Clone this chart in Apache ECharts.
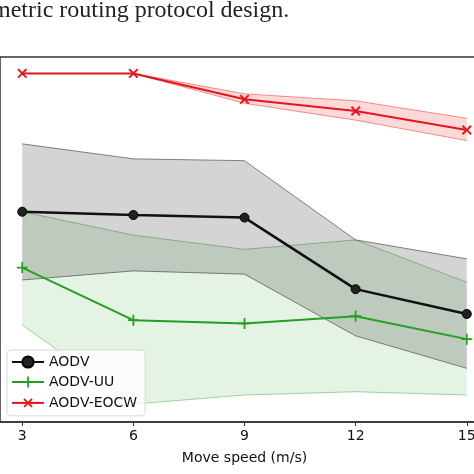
<!DOCTYPE html>
<html>
<head>
    <meta charset="utf-8">
    <title>Move speed</title>
    <script src="https://cdn.jsdelivr.net/npm/echarts@6/dist/echarts.min.js"></script>
    <style>
        html, body { margin: 0; padding: 0; background: #fff; overflow: hidden; }
        /* 右边框在原图之外，画布放宽一点 */
        #chart1 { width: 490px; height: 474px; }
    </style>
</head>
<body>
<div id="chart1"></div>
<script type="text/javascript">

    // x 轴：移动速度
    var speeds = [3, 6, 9, 12, 15];
    var tickLabels = [3, 6, 9, 12, 15];

    // 纵轴刻度被裁掉了，按图中高度读数（0~100）
    var aodvMean = [57.6, 56.7, 56.0, 36.4, 29.6];
    var aodvUpper = [76.2, 72.1, 71.6, 49.9, 44.7];
    var aodvLower = [38.9, 41.4, 40.5, 23.6, 14.7];

    var uuMean = [42.3, 27.9, 27.0, 29.0, 22.7];
    var uuUpper = [57.6, 51.2, 47.3, 49.9, 38.3];
    var uuLower = [26.6, 4.9, 7.4, 8.3, 7.4];

    var eocwMean = [95.5, 95.5, 88.4, 85.2, 80.0];
    var eocwUpper = [95.5, 95.5, 89.9, 88.0, 83.2];
    var eocwLower = [95.5, 95.5, 87.3, 82.7, 77.1];

    function pairs(ys) {
        return speeds.map(function (x, i) { return [x, ys[i]]; });
    }

    // 阴影带：用 custom 系列按坐标轴换算成多边形
    function band(name, low, up, fill, edge) {
        return {
            name: name + '-band', type: 'custom', silent: true,
            data: pairs(up),
            renderItem: function (params, api) {
                if (params.dataIndex !== 0) return;
                var top = speeds.map(function (x, i) { return api.coord([x, up[i]]); });
                var bot = speeds.map(function (x, i) { return api.coord([x, low[i]]); });
                var poly = top.concat(bot.slice().reverse());
                return {
                    type: 'group',
                    children: [
                        { type: 'polygon', shape: { points: poly }, style: { fill: fill, stroke: null } },
                        { type: 'polyline', shape: { points: top }, style: { fill: null, stroke: edge, lineWidth: 1 } },
                        { type: 'polyline', shape: { points: bot }, style: { fill: null, stroke: edge, lineWidth: 1 } }
                    ]
                };
            },
            z: 1
        };
    }

    var plusPath = 'path://M4.2,0H5.8V4.2H10V5.8H5.8V10H4.2V5.8H0V4.2H4.2Z';

    var series = [
        band('uu', uuLower, uuUpper, 'rgba(44,160,44,0.13)', 'rgba(60,160,60,0.45)'),
        band('aodv', aodvLower, aodvUpper, 'rgba(0,0,0,0.17)', 'rgba(40,40,40,0.55)'),
        band('eocw', eocwLower, eocwUpper, 'rgba(255,0,0,0.15)', 'rgba(230,60,60,0.55)'),
        {
            name: 'AODV', type: 'line', data: pairs(aodvMean),
            symbol: 'circle', symbolSize: 9,
            lineStyle: { color: '#111', width: 2.5 },
            itemStyle: { color: '#222', borderColor: '#000', borderWidth: 1 },
            z: 5
        },
        {
            name: 'AODV-UU', type: 'line', data: pairs(uuMean),
            symbol: plusPath, symbolSize: 11,
            lineStyle: { color: '#23a023', width: 2 },
            itemStyle: { color: '#23a023' },
            z: 5
        },
        {
            name: 'AODV-EOCW', type: 'line', data: pairs(eocwMean),
            symbol: plusPath, symbolSize: 12, symbolRotate: 45,
            lineStyle: { color: '#e8141c', width: 2 },
            itemStyle: { color: '#e8141c' },
            z: 5
        }
    ];

    var myChart1 = echarts.init(document.getElementById('chart1'));

    myChart1.setOption({
        animation: false,
        textStyle: { fontFamily: 'DejaVu Sans' },
        graphic: [{
            type: 'text', left: -8, top: -1,
            style: {
                text: 'metric routing protocol design.',
                font: '24px "Liberation Serif"',
                fill: '#222'
            }
        }],
        legend: {
            data: ['AODV', 'AODV-UU', 'AODV-EOCW'],
            orient: 'vertical',
            left: 7, top: 350,
            itemWidth: 32, itemHeight: 14, itemGap: 6,
            padding: [5, 8, 5, 4],
            backgroundColor: 'rgba(255,255,255,0.8)',
            borderColor: '#d8d8d8', borderWidth: 1, borderRadius: 4,
            textStyle: { fontSize: 14, color: '#111', fontFamily: 'DejaVu Sans' }
        },
        grid: {
            left: -1, right: 1, top: 57, bottom: 52,
            show: true, borderColor: '#333', borderWidth: 1.5,
            backgroundColor: 'transparent'
        },
        xAxis: {
            type: 'value', min: 2.4, max: 15.6,
            name: 'Move speed (m/s)', nameLocation: 'middle', nameGap: 29,
            nameTextStyle: { fontSize: 14, color: '#111' },
            axisLine: { lineStyle: { color: '#333', width: 1.5 } },
            axisTick: { customValues: tickLabels, length: 4, lineStyle: { color: '#333' } },
            axisLabel: { customValues: tickLabels, fontSize: 14, color: '#111', margin: 7 },
            splitLine: { show: false }
        },
        yAxis: {
            type: 'value', min: 0, max: 100,
            axisLine: { show: false },
            axisTick: { show: false },
            axisLabel: { show: false },
            splitLine: { show: false }
        },
        series: series
    });

</script>
</body>
</html>
